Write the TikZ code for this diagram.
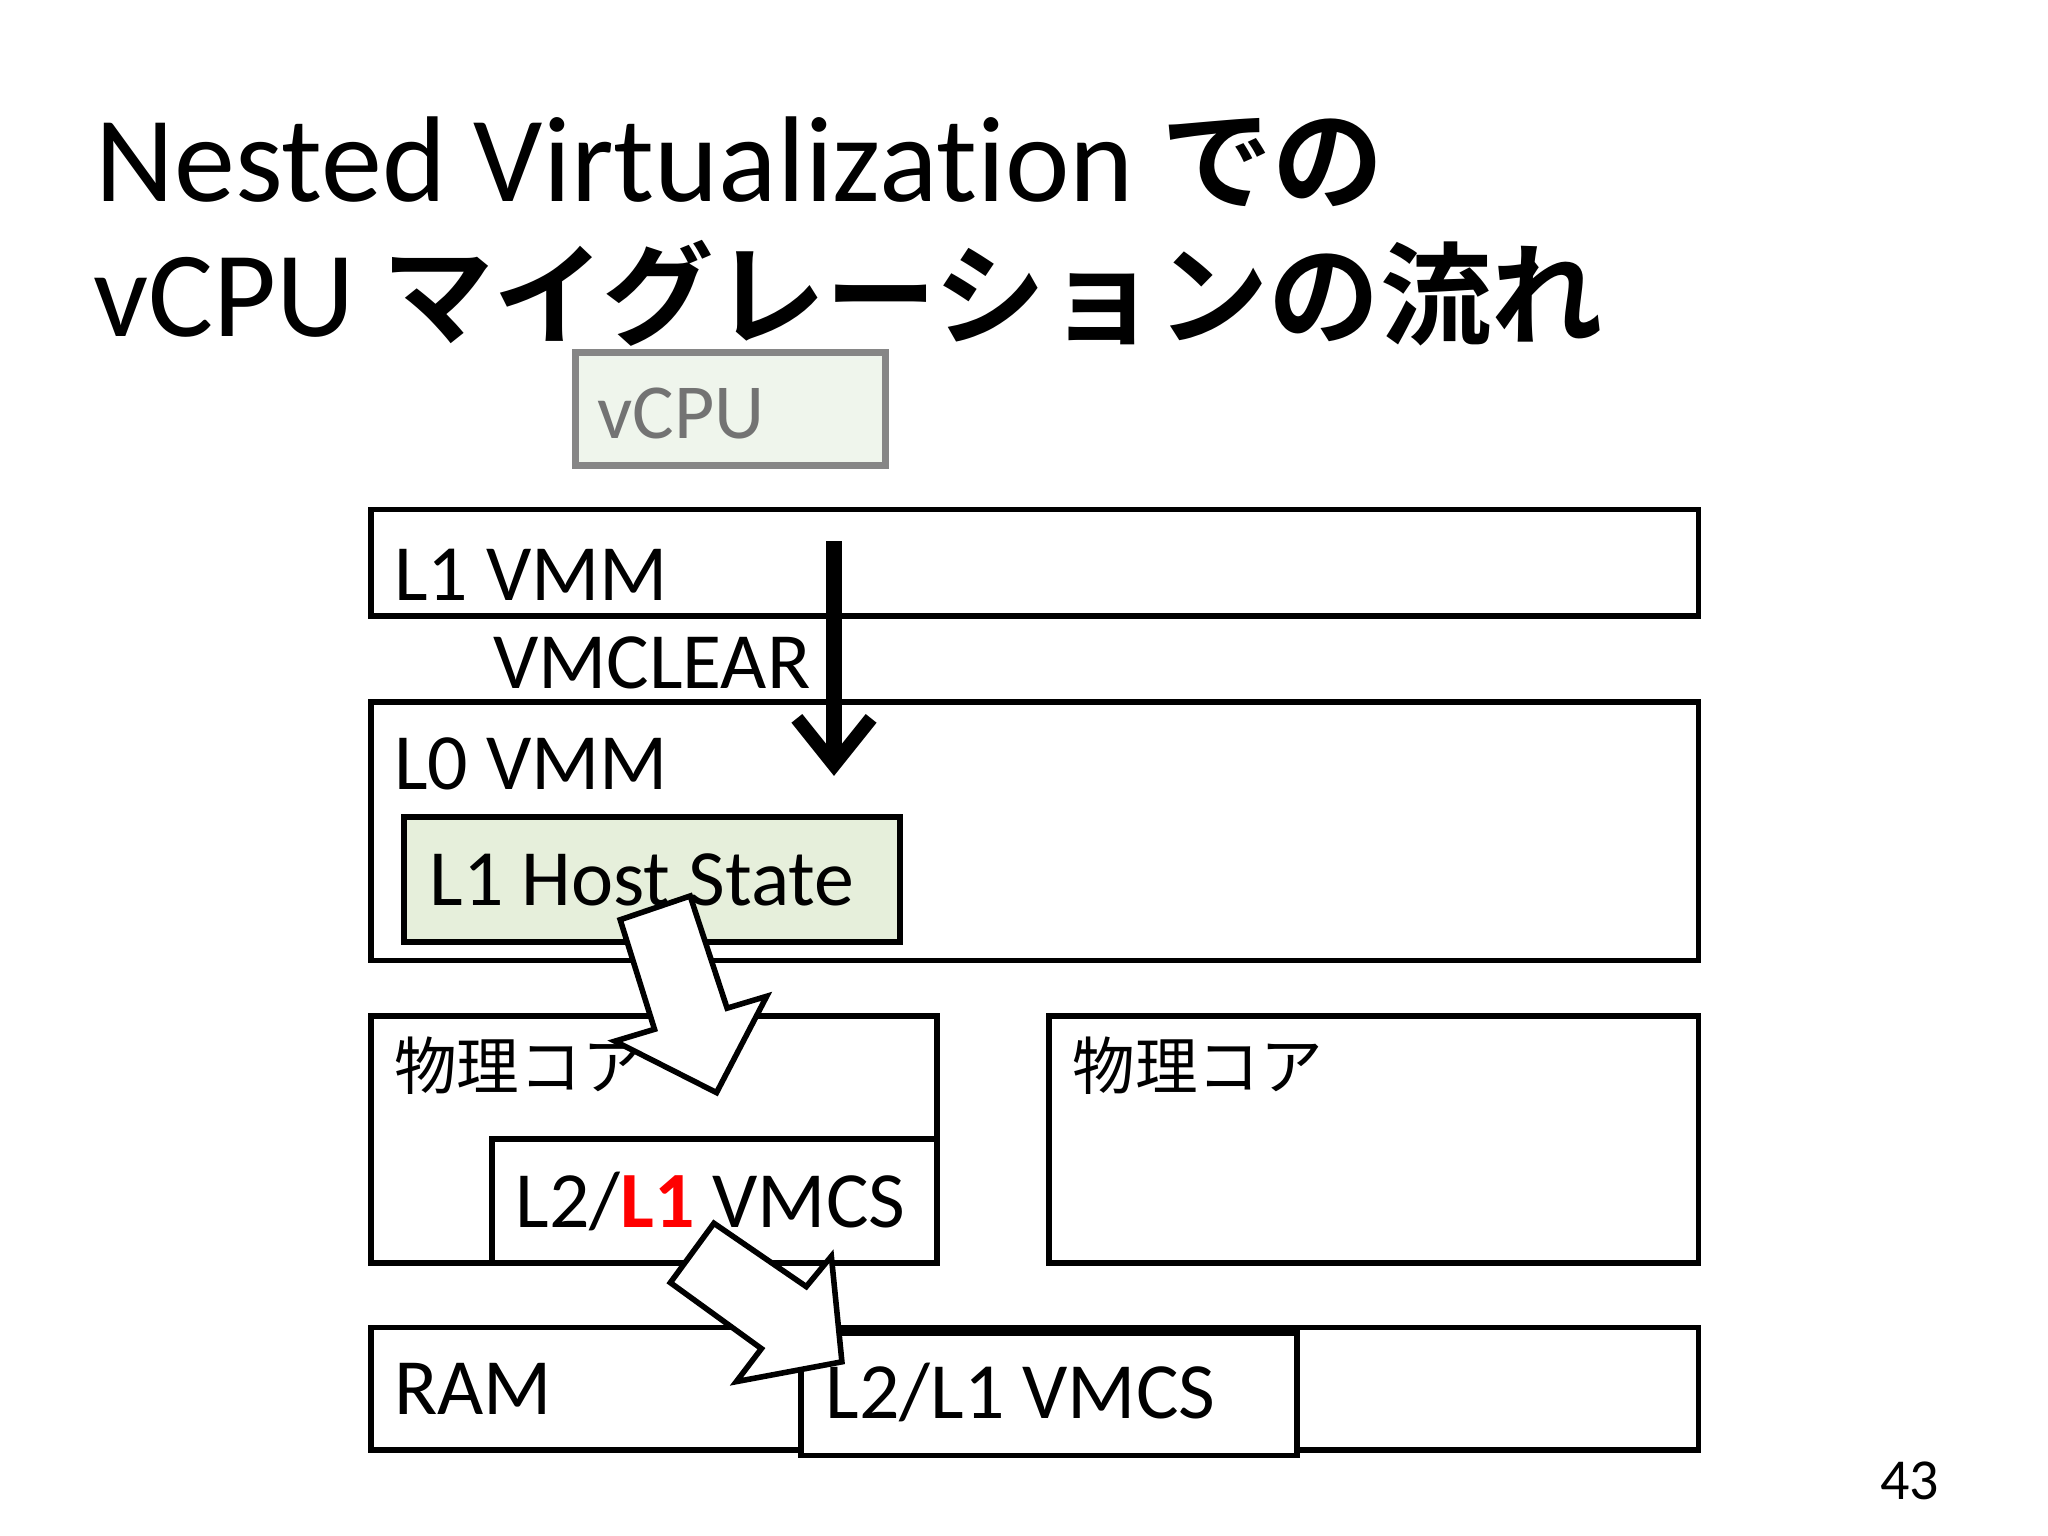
\documentclass[tikz,border=0pt]{standalone}
\usepackage{fontspec}
\usetikzlibrary{arrows.meta}
\setmainfont[Ligatures=NoCommon]{Carlito}
\newfontfamily\cjk[BoldFont={Noto Sans CJK JP Bold}]{Noto Sans CJK JP}
\begin{document}
\begin{tikzpicture}[x=0.01cm,y=-0.01cm,
  box/.style={draw=black,line width=1.2pt},
  lbl/.style={anchor=base west,inner sep=0pt,font=\fontsize{17.2}{20}\selectfont},
  jlbl/.style={anchor=base west,inner sep=0pt,font=\cjk\fontsize{13.5}{16}\selectfont},
  blk/.style={draw=black,fill=white,line width=1.2pt,line join=miter}]
\useasboundingbox (0,0) rectangle (1552,1164);
\node[anchor=base west,inner sep=0pt,font=\fontsize{26.3}{30}\selectfont] (t1) at (72,153) {Nested Virtualization {\cjk\bfseries\fontsize{24}{30}\selectfont での}};
\node[anchor=base west,inner sep=0pt,font=\fontsize{26.3}{30}\selectfont] (t2) at (70,255) {vCPU {\cjk\bfseries\fontsize{24}{30}\selectfont マイグレーションの流れ}};
\draw[draw=gray!95,fill={rgb,255:red,239;green,245;blue,236},line width=1.5pt] (436,267) rectangle (671,353);
\node[anchor=base west,inner sep=0pt,text=gray!90!black,font=\fontsize{16.8}{20}\selectfont] (vc) at (452,332) {vCPU};
\draw[box] (281,386) rectangle (1287,467);
\node[lbl] (l1) at (298,455) {L1 VMM};
\node[lbl] (vmc) at (373,522) {VMCLEAR};
\draw[box] (281,532) rectangle (1287,728);
\node[lbl] (l0) at (298,598) {L0 VMM};
\draw[box,fill={rgb,255:red,230;green,239;blue,219}] (306,619) rectangle (682,714);
\node[lbl] (hs) at (325,686) {L1 Host State};
\coordinate (a1) at (632,410);
\coordinate (a2) at (632,588);
\draw[line width=3.5pt,-{Straight Barb[length=10pt,width=16pt,line width=3pt]}] (a1) -- (a2);
\draw[box] (281,770) rectangle (710,957);
\node[jlbl] (p1) at (298,826) {物理コア};
\draw[box] (373,863) rectangle (710,957);
\node[lbl] (v1) at (390,930) {L2/\textcolor{red}{\textbf{L1}} VMCS};
\draw[box] (795,770) rectangle (1287,957);
\node[jlbl] (p2) at (812,826) {物理コア};
\draw[box] (281,1006) rectangle (1287,1099);
\node[lbl] (ram) at (298,1072) {RAM};
\draw[box,fill=white] (607,1010) rectangle (983,1103);
\node[lbl] (v2) at (625,1075) {L2/L1 VMCS};
\draw[blk] (470,697) -- (523,679) -- (551,764) -- (581,755) -- (543,828) -- (466,789) -- (496,780) -- cycle;
\draw[blk] (508,972) -- (541,927) -- (611,975) -- (630,952) -- (638,1032) -- (558,1047) -- (577,1022) -- cycle;
\node[anchor=base west,inner sep=0pt,font=\fontsize{12.5}{15}\selectfont] (pg) at (1424,1136) {43};
\end{tikzpicture}
\end{document}
